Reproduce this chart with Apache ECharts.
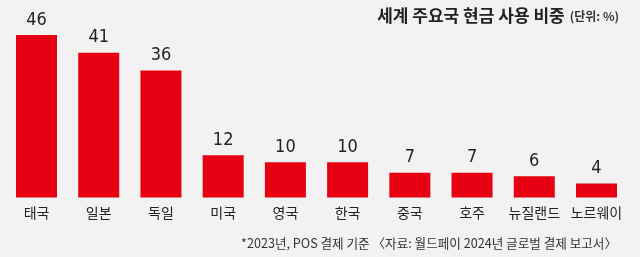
<!DOCTYPE html>
<html><head><meta charset="utf-8">
<script src="https://cdn.jsdelivr.net/npm/echarts@6/dist/echarts.min.js"></script>
<style>html,body{margin:0;padding:0;background:#f2f2f2}#c{width:640px;height:257px}</style>
</head><body><div id="c"></div>
<script>
const categories = ['태국','일본','독일','미국','영국','한국','중국','호주','뉴질랜드','노르웨이'];
const values = [46,41,36,12,10,10,7,7,6,4];
const titleText = '세계 주요국 현금 사용 비중';
const unitText = '(단위: %)';
const noteText = '*2023년, POS 결제 기준 〈자료: 월드페이 2024년 글로벌 결제 보고서〉';

const chart = echarts.init(document.getElementById('c'), null, {renderer:'canvas'});
const numFont = '"DejaVu Sans Condensed","Liberation Sans Narrow","Noto Sans CJK KR",sans-serif';
const krFont = '"Noto Sans CJK KR",sans-serif';
chart.setOption({
  backgroundColor:'#f2f2f2',
  animation:false,
  title:[{
    text:'{a|'+titleText+'} {b|'+unitText+'}',
    right:16, top:2,
    textStyle:{rich:{
      a:{fontFamily:krFont,fontWeight:'bold',fontSize:17,color:'#222'},
      b:{fontFamily:krFont,fontSize:12,color:'#333'}
    }}
  },{
    text:noteText,
    right:18, top:232,
    textStyle:{fontFamily:krFont,fontWeight:'normal',fontSize:12.6,color:'#333'}
  }],
  grid:{left:5.4,right:12.4,top:21,bottom:59.5},
  xAxis:{type:'category',data:categories,
    axisLine:{show:false},axisTick:{show:false},
    axisLabel:{interval:0,margin:8,fontFamily:krFont,fontSize:14,color:'#222'}},
  yAxis:{type:'value',min:0,max:50,show:false,splitLine:{show:false}},
  series:[{type:'bar',data:values,barWidth:41,
    itemStyle:{color:'#e60012'},
    label:{show:true,position:'top',distance:6,fontFamily:numFont,fontSize:18,color:'#222'}}]
});
</script></body></html>
